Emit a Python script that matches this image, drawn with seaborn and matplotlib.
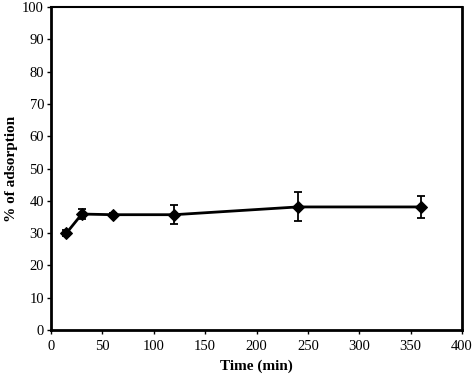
import matplotlib
matplotlib.use("Agg")
import matplotlib.pyplot as plt
import seaborn as sns
import pandas as pd

time_min = [15, 30, 60, 120, 240, 360]
adsorption = [30.0, 35.9, 35.7, 35.7, 38.1, 38.1]
error = [1.0, 1.5, 0.6, 3.0, 4.5, 3.3]
x_ticks = [0, 50, 100, 150, 200, 250, 300, 350, 400]
y_ticks = [0, 10, 20, 30, 40, 50, 60, 70, 80, 90, 100]

df = pd.DataFrame({"Time (min)": time_min, "% of adsorption": adsorption, "err": error})

sns.set_style("white")
plt.rcParams["font.family"] = ["Liberation Serif", "DejaVu Serif"]
plt.rcParams["text.color"] = "black"
plt.rcParams["axes.labelcolor"] = "black"

fig = plt.figure(figsize=(4.74, 3.76), dpi=100)
ax = fig.add_axes([0.1076, 0.1223, 0.8671, 0.8591])

sns.lineplot(data=df, x="Time (min)", y="% of adsorption", ax=ax, color="black",
             linewidth=2.0, marker="D", markersize=6, markeredgecolor="black")
ax.errorbar(df["Time (min)"], df["% of adsorption"], yerr=df["err"], fmt="none",
            ecolor="black", elinewidth=1.3, capsize=3, capthick=1.3)

ax.set_xlim(0, 400)
ax.set_ylim(0, 100)
ax.set_xticks(x_ticks)
ax.set_yticks(y_ticks)
ax.tick_params(axis="x", direction="out", length=3, width=1, labelsize=10.5, pad=4,
               bottom=True, colors="black")
ax.tick_params(axis="y", direction="out", length=3, width=1, labelsize=10.5, pad=2,
               left=True, colors="black")
for side, sp in ax.spines.items():
    sp.set_visible(True)
    sp.set_color("black")
    sp.set_linewidth(2.0 if side in ("left", "bottom", "right") else 1.5)

ax.set_xlabel("Time (min)", fontsize=11, fontweight="bold", labelpad=5, color="black")
ax.set_ylabel("% of adsorption", fontsize=11, fontweight="bold", labelpad=3, color="black")

fig.savefig("out.png", dpi=100)
